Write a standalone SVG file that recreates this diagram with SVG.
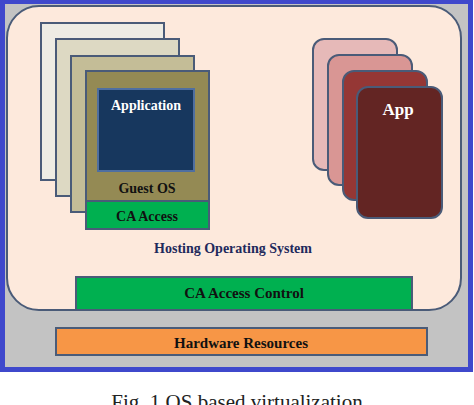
<svg xmlns="http://www.w3.org/2000/svg" width="474" height="405" viewBox="0 0 474 405">
<style>
.t{font-family:"Liberation Serif","Times New Roman",serif;font-weight:bold;text-anchor:middle}
.b{stroke:#4a5b78;stroke-width:2}
</style>
<rect x="0" y="0" width="474" height="405" fill="#ffffff"/>
<g id="frame">
<rect x="2.5" y="1.5" width="468" height="368" fill="#c3c3c3" stroke="#3f48cc" stroke-width="5"/>
</g>
<g id="host">
<rect x="7" y="6" width="454" height="304" rx="32" ry="32" fill="#fde9dc" stroke="#4a5b78" stroke-width="2"/>
<text class="t" x="233" y="253" font-size="14" fill="#1f2a5c">Hosting Operating System</text>
</g>
<g id="guest1"><rect class="b" x="41" y="23" width="123" height="157" fill="#eeece4"/></g>
<g id="guest2"><rect class="b" x="56" y="39" width="123" height="157" fill="#ddd9c3"/></g>
<g id="guest3"><rect class="b" x="71" y="56" width="123" height="156" fill="#c4bd97"/></g>
<g id="guest4">
<rect class="b" x="86" y="71" width="123" height="158" fill="#948a54"/>
<text class="t" x="147" y="193" font-size="14" fill="#111111">Guest OS</text>
</g>
<g id="application">
<rect x="98" y="89" width="96" height="82" fill="#17375e" stroke="#4f6fa0" stroke-width="2"/>
<text class="t" x="146" y="110" font-size="14" fill="#ffffff">Application</text>
</g>
<g id="ca-access">
<rect class="b" x="86" y="201" width="123" height="28" fill="#00b050"/>
<text class="t" x="147" y="221" font-size="14" fill="#111111">CA Access</text>
</g>
<g id="app1"><rect class="b" x="313" y="39" width="84" height="131" rx="11" fill="#e6b9b8"/></g>
<g id="app2"><rect class="b" x="328" y="55" width="84" height="130" rx="11" fill="#d99694"/></g>
<g id="app3"><rect class="b" x="343" y="71" width="84" height="129" rx="11" fill="#953735"/></g>
<g id="app4">
<rect class="b" x="357" y="87" width="85" height="131" rx="11" fill="#632523"/>
<text class="t" x="398" y="115" font-size="17" fill="#ffffff">App</text>
</g>
<g id="ca-access-control">
<rect class="b" x="76" y="277" width="336" height="33" fill="#00b050"/>
<text class="t" x="244" y="298" font-size="15" fill="#111111">CA Access Control</text>
</g>
<g id="hardware">
<rect class="b" x="56" y="328" width="371" height="27" fill="#f79646"/>
<text class="t" x="241" y="348" font-size="15" fill="#111111">Hardware Resources</text>
</g>
<g id="connectors"></g>
<text x="237" y="409" font-family="'Liberation Serif','Times New Roman',serif" font-size="21" text-anchor="middle" fill="#222222">Fig. 1 OS based virtualization</text>
</svg>
